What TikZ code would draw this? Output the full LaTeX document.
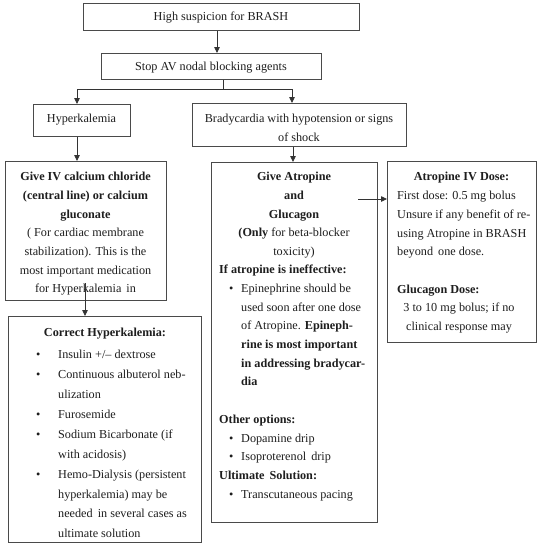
\documentclass[tikz,border=0pt]{standalone}
\usepackage{fontspec}
\setmainfont{Liberation Serif}
\usetikzlibrary{arrows.meta}
\definecolor{boxline}{HTML}{4A4A4A}
\definecolor{txt}{HTML}{1E1E1E}
\newcommand\fs{\fontsize{12.2pt}{18.7pt}\selectfont}
\newcommand\fsb{\fontsize{12.2pt}{19.9pt}\selectfont}
\newcommand\fst{\rule{0pt}{9.5pt}}
\newcommand\bl{\makebox[22pt][l]{\textbullet}}
\newcommand\ind{\hspace*{22pt}}
\newcommand\blb{\makebox[22pt][l]{\hspace{10pt}\textbullet}}
\newcommand\wsp{\ \hspace{2pt}}
\tikzset{
  box/.style={draw=boxline, line width=0.8pt, anchor=north west, inner sep=0pt},
  ctext/.style={anchor=north, align=center, inner sep=0pt, font=\fs, text=txt},
  ltext/.style={anchor=north west, align=left, inner sep=0pt, font=\fs, text=txt},
  conn/.style={draw=black!80, line width=0.8pt},
  arr/.style={conn, -{Triangle[length=6pt,width=5.5pt]}},
}
\begin{document}
\begin{tikzpicture}[x=1pt,y=-1pt]
\useasboundingbox[fill=white] (0,0) rectangle (543,550);
% boxes
\node[box, minimum width=276pt, minimum height=27pt] (high) at (83,3) {};
\node[box, minimum width=220pt, minimum height=26pt] (stop) at (101,53) {};
\node[box, minimum width=97pt, minimum height=32pt] (hyper) at (33,104) {};
\node[box, minimum width=214pt, minimum height=43pt] (brady) at (192,103) {};
\node[box, minimum width=161pt, minimum height=139pt] (giveiv) at (5,161) {};
\node[box, minimum width=193pt, minimum height=226pt] (correct) at (8,316) {};
\node[box, minimum width=166pt, minimum height=360pt] (atropine) at (211,162) {};
\node[box, minimum width=149pt, minimum height=181pt] (dose) at (387,161) {};
% texts
\node[ctext] (highT) at (221,11) {\fst High suspicion for BRASH};
\node[ctext] (stopT) at (211,61) {\fst Stop AV nodal blocking agents};
\node[ctext] (hyperT) at (81.5,113) {\fst Hyperkalemia};
\node[ctext] (bradyT) at (299,113) {\fst Bradycardia with hypotension or signs\\ of shock};
\node[ctext] (giveivT) at (85.5,171) {\fst\textbf{Give IV calcium chloride}\\
  \textbf{(central line) or calcium}\\
  \textbf{gluconate}\\
  ( For cardiac membrane\\
  stabilization). This is the\\
  most important medication\\
  for Hyperkalemia\wsp in};
\node[ctext] (correctT) at (105,327) {\fst\textbf{Correct Hyperkalemia:}};
\node[ltext, font=\fsb] (correctL) at (36,349) {\fst\bl Insulin +/-- dextrose\\
  \bl Continuous albuterol neb-\\
  \ind ulization\\
  \bl Furosemide\\
  \bl Sodium Bicarbonate (if\\
  \ind with acidosis)\\
  \bl Hemo-Dialysis (persistent\\
  \ind hyperkalemia) may be\\
  \ind needed\wsp in several cases as\\
  \ind ultimate solution};
\node[ctext] (atropineT) at (294,171) {\fst\textbf{Give Atropine}\\
  \textbf{and}\\
  \textbf{Glucagon}\\
  \textbf{(Only} for beta-blocker\\
  toxicity)};
\node[ltext] (atropineL) at (219,264) {\fst\textbf{If atropine is ineffective:}\\
  \blb Epinephrine should be\\
  \ind used soon after one dose\\
  \ind of Atropine. \textbf{Epineph-}\\
  \ind \textbf{rine is most important}\\
  \ind \textbf{in addressing bradycar-}\\
  \ind \textbf{dia}\\[18.7pt]
  \textbf{Other options:}\\
  \blb Dopamine drip\\
  \blb Isoproterenol\wsp drip\\
  \textbf{Ultimate\wsp Solution:}\\
  \blb Transcutaneous pacing};
\node[ctext] (doseT) at (461.5,171) {\fst\textbf{Atropine IV Dose:}};
\node[ltext] (doseL) at (397,190) {\fst First dose: 0.5 mg bolus\\
  Unsure if any benefit of re-\\
  using Atropine in BRASH\\
  beyond\wsp one dose.\\[18.7pt]
  \textbf{Glucagon Dose:}};
\node[ctext] (doseB) at (459,302) {\fst 3 to 10 mg bolus; if no\\ clinical response may};
% connector coordinates
\coordinate (x1) at (217,0);
\coordinate (br) at (223,89);
\coordinate (bl) at (77,89);
\coordinate (brr) at (292,89);
\coordinate (x3) at (77,0);
\coordinate (c5) at (85,283);
\coordinate (x6) at (293,0);
\coordinate (c7) at (358,199);
% connectors
\draw[arr] (high.south -| x1) -- (stop.north -| x1);
\draw[conn] (stop.south -| br) -- (br);
\draw[conn] (bl) -- (brr);
\draw[arr] (bl) -- (hyper.north -| bl);
\draw[arr] (brr) -- (brady.north -| brr);
\draw[arr] (hyper.south -| x3) -- (giveiv.north -| x3);
\draw[arr] (c5) -- (correct.north -| c5);
\draw[arr] (brady.south -| x6) -- (atropine.north -| x6);
\draw[arr] (c7) -- (dose.west |- c7);
\end{tikzpicture}
\end{document}
